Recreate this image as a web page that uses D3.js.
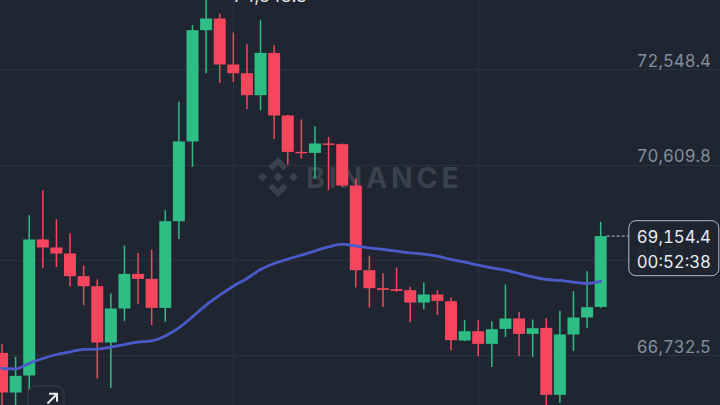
<!DOCTYPE html>
<html><head><meta charset="utf-8">
<style>html,body{margin:0;padding:0;background:#1f2631;overflow:hidden}svg{display:block}text{font-variant-numeric:tabular-nums}</style>
<script src="https://cdn.jsdelivr.net/npm/d3@7"></script></head><body><svg id="c" width="720" height="405"></svg>
<script>
const opens=[66779,65974,66320,69086,68923,68801,68339,68136,66991,67682,68386,68284,67695,69458,71079,73342,73580,72644,72467,72020,72880,71607,70867,70847,71038,71024,70184,68461,68095,68075,68055,67804,67967,67831,67032,67221,66963,67267,67479,67166,67288,65925,67154,67499,67715];
const highs=[66956,66698,69580,70088,69498,69214,68557,68272,67987,68964,68813,68882,69681,71884,73444,74013,73682,73295,73057,73545,73037,71613,71526,71390,71172,71038,70326,68752,68400,68516,68122,68211,68055,67906,67444,67444,67424,68171,67613,67459,67485,67634,68034,68441,69444];
const lows=[65655,65614,65818,68508,68528,68136,67750,66259,66068,67430,67770,67343,67410,69098,70562,72467,72270,72291,71735,71715,71131,70611,70733,70326,70088,70155,68110,67703,67715,68020,67404,67668,67552,66834,67017,66712,66495,67105,66712,66698,65614,65763,66820,67288,67695];
const closes=[65974,66312,69086,68923,68801,68339,68136,66991,67682,68386,68284,67695,69458,71079,73342,73580,72644,72467,72020,72880,71607,70867,70841,71038,71009,70184,68461,68095,68061,68040,67804,67967,67837,67038,67221,66963,67261,67479,67166,67282,65925,67154,67499,67709,69154.4];
const ma=[66462,66454,66570,66666,66747,66800,66849,66855,66895,66950,66997,67024,67125,67288,67512,67750,67953,68136,68292,68475,68598,68685,68766,68854,68935,68990,68955,68915,68882,68848,68813,68787,68746,68679,68624,68563,68508,68461,68394,68325,68272,68252,68217,68191,68232];
const priceTicks=[72548.4,70609.8,68671.1,66732.5];
const topLabel="74,843.3";
const lastPrice=69154.4, countdown="00:52:38";
const timeGrid=[17,35];
const fmt=d3.format(",.1f");
const FONT="Inter, 'Open Sans', sans-serif";
const FS=16.8;

const svg=d3.select("#c");
const x=d3.scaleLinear().domain([0,44]).range([2,600.7]);
const y=d3.scaleLinear().domain([72548.4,66732.5]).range([69.2,355.2]);
const UP="#2ebd85",DOWN="#f6465d",GRID="#2b323d";

svg.append("rect").attr("width",720).attr("height",405).attr("fill","#1f2631");
// grid
svg.append("g").selectAll("line").data(priceTicks).join("line")
 .attr("x1",0).attr("x2",720).attr("y1",d=>Math.round(y(d))+.5).attr("y2",d=>Math.round(y(d))+.5).attr("stroke",GRID);
svg.append("g").selectAll("line").data(timeGrid).join("line")
 .attr("y1",0).attr("y2",405).attr("x1",d=>Math.round(x(d))+.5).attr("x2",d=>Math.round(x(d))+.5).attr("stroke",GRID);
// watermark
const wm=svg.append("g").attr("fill","#3a414c");
wm.append("g").attr("transform","translate(278,177)").append("path").attr("d",
 "M0,-20L9.5,-10.5L5.5,-6.5L0,-12L-5.5,-6.5L-9.5,-10.5Z M-20,0L-15.5,-4.5L-11,0L-15.5,4.5Z M20,0L15.5,-4.5L11,0L15.5,4.5Z M0,-4.8L4.8,0L0,4.8L-4.8,0Z M0,20L9.5,10.5L5.5,6.5L0,12L-5.5,6.5L-9.5,10.5Z");
wm.append("text").attr("x",306).attr("y",187.5).attr("font-family",FONT).attr("font-weight",700).attr("font-size",28.5).attr("letter-spacing",3.8).text("BINANCE");
// y labels under candles
const axis=d3.axisRight(y).tickValues(priceTicks).tickFormat(fmt).tickSize(0).tickPadding(0);
const ag=svg.append("g").attr("transform","translate(711,0)").call(axis);
ag.select(".domain").remove();
ag.selectAll("text").attr("text-anchor","end").attr("x",0).attr("dy",null).attr("y",-2.8)
 .attr("font-family",FONT).attr("font-size",FS).attr("fill","#848e9c");
ag.selectAll("text").filter(d=>d===68671.1).attr("fill","#3a414c");
// candles
const idx=d3.range(opens.length);
svg.append("g").selectAll("line").data(idx).join("line")
 .attr("x1",i=>x(i)).attr("x2",i=>x(i)).attr("y1",i=>y(highs[i])).attr("y2",i=>y(lows[i]))
 .attr("stroke",i=>closes[i]>=opens[i]?UP:DOWN).attr("stroke-width",1.5);
svg.append("g").selectAll("rect").data(idx).join("rect")
 .attr("x",i=>x(i)-6).attr("width",12)
 .attr("y",i=>Math.min(y(opens[i]),y(closes[i])))
 .attr("height",i=>Math.max(1.3,Math.abs(y(opens[i])-y(closes[i]))))
 .attr("fill",i=>closes[i]>=opens[i]?UP:DOWN);
// MA
svg.append("path").datum(ma).attr("fill","none").attr("stroke","#4a5bc9").attr("stroke-width",2.8)
 .attr("stroke-linejoin","round").attr("stroke-linecap","round")
 .attr("d",d3.line().x((d,i)=>x(i)).y(d=>y(d)).curve(d3.curveMonotoneX));
// top label
svg.append("text").attr("x",270).attr("y",2).attr("text-anchor","middle").attr("font-family",FONT).attr("font-size",FS).attr("fill","#eaecef").text(topLabel);
// last price
svg.append("line").attr("x1",x(44)+6).attr("x2",629).attr("y1",y(lastPrice)).attr("y2",y(lastPrice))
 .attr("stroke","#b7bdc6").attr("stroke-dasharray","3 2");
svg.append("rect").attr("x",628.8).attr("y",220.7).attr("width",90).attr("height",55).attr("rx",7)
 .attr("fill","rgba(31,38,49,.8)").attr("stroke","#b7bdc6");
svg.append("text").attr("x",711).attr("y",242.8).attr("text-anchor","end").attr("font-family",FONT).attr("font-size",FS).attr("fill","#eaecef").text(fmt(lastPrice));
svg.append("text").attr("x",711).attr("y",267.5).attr("text-anchor","end").attr("font-family",FONT).attr("font-size",FS).attr("fill","#eaecef").text(countdown);
// button
svg.append("rect").attr("x",28).attr("y",386).attr("width",36).attr("height",36).attr("rx",8).attr("fill","#1f2631").attr("stroke","#3a414c");
svg.append("path").attr("d","M47.5,403.5L56,395M49,393.8H57V401.8").attr("fill","none").attr("stroke","#eaecef").attr("stroke-width",2);
</script></body></html>
